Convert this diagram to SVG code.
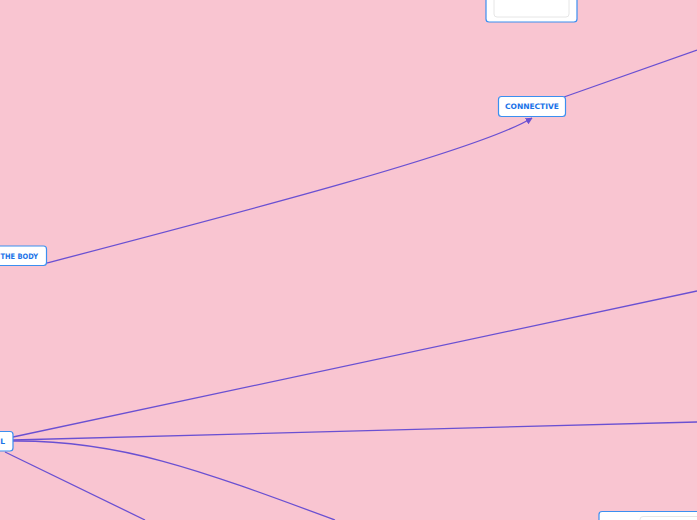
<svg xmlns="http://www.w3.org/2000/svg" width="697" height="520" viewBox="0 0 697 520">
<defs>
<style>
.bg{fill:#F9C5D1}
.node rect.box{fill:#ffffff;stroke:#3B8FF0;stroke-width:1.2}
.inner{fill:#ffffff;stroke:#E6E6E6;stroke-width:1}
.lbl{font-family:"DejaVu Sans",sans-serif;font-weight:bold;font-size:7.5px;fill:#1A73E8}
.conn path{fill:none;stroke:#6A50D2;stroke-width:1.3}
</style>
<marker id="arr" viewBox="0 0 10 10" refX="9" refY="5" markerWidth="7" markerHeight="7" orient="auto" markerUnits="userSpaceOnUse">
<path d="M0,0 L10,5 L0,10 z" fill="#6A50D2"/>
</marker>
</defs>
<rect class="bg" x="0" y="0" width="697" height="520"/>
<g class="conn">
<path d="M47,263 C250,210 480,150 532,118" marker-end="url(#arr)"/>
<path d="M564,97 L697,50"/>
<path d="M13,437 L697,291"/>
<path d="M13,440 L697,422"/>
<path d="M13,441 C120,440 200,470 335,520"/>
<path d="M5,452 L145,520"/>
</g>
<g id="node-top" class="node">
<rect class="box" x="486" y="-10" width="91" height="32" rx="3"/>
<rect class="inner" x="494" y="-10" width="75" height="27" rx="3"/>
</g>
<g id="node-connective" class="node">
<rect class="box" x="498.5" y="96.5" width="67" height="20" rx="3"/>
<text class="lbl" x="532" y="109.3" text-anchor="middle">CONNECTIVE</text>
</g>
<g id="node-body" class="node">
<rect class="box" x="-20" y="246" width="66.5" height="19.5" rx="3"/>
<text class="lbl" x="0.5" y="258.5" textLength="37.5" lengthAdjust="spacingAndGlyphs">THE BODY</text>
</g>
<g id="node-l" class="node">
<rect class="box" x="-20" y="431.5" width="33" height="19.5" rx="3"/>
<text class="lbl" x="5" y="444" text-anchor="end">L</text>
</g>
<g id="node-bottom" class="node">
<rect class="box" x="599" y="511.5" width="110" height="30" rx="3"/>
<rect class="inner" x="640" y="516.5" width="70" height="20" rx="3"/>
</g>
</svg>
